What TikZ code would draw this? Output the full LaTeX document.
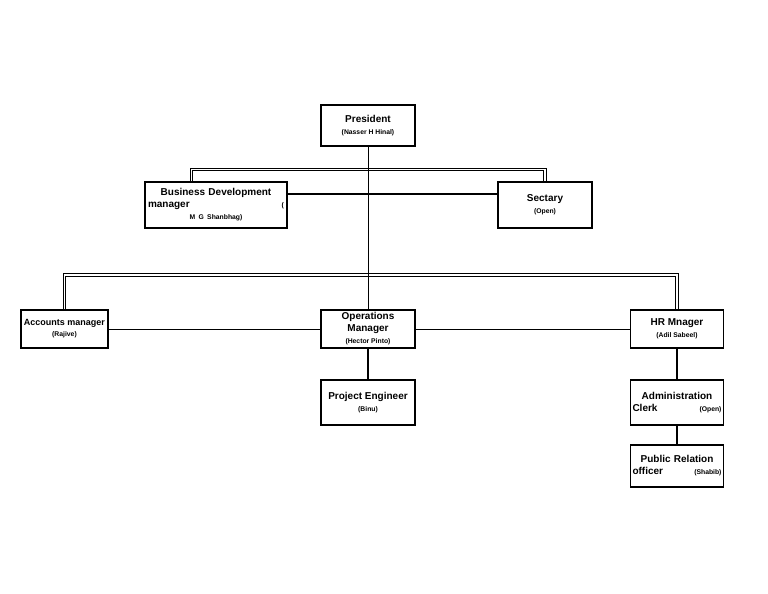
\documentclass[tikz,border=0pt]{standalone}
\usepackage{fontspec}
\setmainfont{Liberation Sans}
\newcommand{\who}[1]{{\fontsize{6.8}{8}\selectfont #1}}
\tikzset{
  post/.style={draw, line width=1.3pt, inner sep=2pt, align=center,
    font=\bfseries\fontsize{10}{12}\selectfont},
  link/.style={line width=0.8pt},
  thicklink/.style={line width=1.8pt},
  bracket/.style={double, double distance=1.6pt, line width=0.9pt}
}

\begin{document}
\begin{tikzpicture}[x=1pt,y=-1pt]
\useasboundingbox (0,0) rectangle (768,594);

% President
\node[post, minimum width=94pt, minimum height=41pt] (pres) at (368,125.5)
{President\\\who{(Nasser H Hinal)}};

% Second row
\node[post, minimum width=142pt, minimum height=46pt, text width=136pt, align=left] (bd) at (216,205)
{\makebox[\linewidth]{Business Development}\\manager\hfill\who{(}\\\makebox[\linewidth]{\who{M G Shanbhag)}}};
\node[post, minimum width=94pt, minimum height=46pt] (sec) at (545,205)
{Sectary\\\who{(Open)}};

% Managers
\node[post, minimum width=87pt, minimum height=38pt, font=\bfseries\fontsize{9}{11}\selectfont] (acc) at (64.5,329)
{Accounts manager\\\who{(Rajive)}};
\node[post, minimum width=94pt, minimum height=38pt] (ops) at (368,329)
{Operations\\Manager\\\who{(Hector Pinto)}};
\node[post, minimum width=93pt, minimum height=38pt] (hr) at (677,329)
{HR Mnager\\\who{(Adil Sabeel)}};

% Staff
\node[post, minimum width=94pt, minimum height=45pt] (pe) at (368,402.5)
{Project Engineer\\\who{(Binu)}};
\node[post, minimum width=93pt, minimum height=45pt, text width=89pt, align=left] (adm) at (677,402.5)
{\makebox[\linewidth]{Administration}\\Clerk\hfill\who{(Open)}};
\node[post, minimum width=93pt, minimum height=42pt, text width=89pt, align=left] (pr) at (677,466)
{\makebox[\linewidth]{Public Relation}\\officer\hfill\who{(Shabib)}};

% Brackets
\coordinate (top1) at (368,169.5);
\coordinate (top2) at (368,275);
\draw[bracket] ([xshift=47pt]bd.north west) |- (top1) -| (sec.north);
\draw[bracket] (acc.north) |- (top2) -| (hr.north);

% Links
\draw[link] (pres) -- (ops);
\draw[thicklink] ([yshift=11pt]bd.east) -- ([yshift=11pt]sec.west);
\draw[link] (acc) -- (ops);
\draw[link] (ops) -- (hr);
\draw[thicklink] (ops) -- (pe);
\draw[thicklink] (hr) -- (adm);
\draw[thicklink] (adm) -- (pr);

\end{tikzpicture}
\end{document}
